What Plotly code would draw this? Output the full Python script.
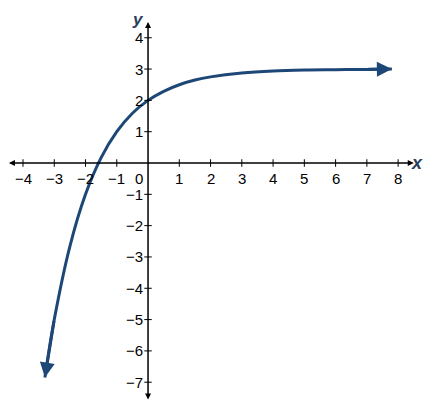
import plotly.graph_objects as go

curve_x = [-3.3, -3.0, -2.5, -2.0, -1.5, -1.0, -0.5, 0.0, 0.5, 1.0, 1.5, 2.0, 3.0, 4.0, 5.0, 6.0, 7.0, 7.8]
curve_y = [-6.85, -5.0, -2.66, -1.0, 0.17, 1.0, 1.59, 2.0, 2.29, 2.5, 2.65, 2.75, 2.875, 2.94, 2.97, 2.98, 2.99, 3.0]
x_ticks = [-4, -3, -2, -1, 1, 2, 3, 4, 5, 6, 7, 8]
y_ticks = [-7, -6, -5, -4, -3, -2, -1, 1, 2, 3, 4]

col = "#1d4776"
fig = go.Figure()
fig.add_trace(go.Scatter(x=curve_x, y=curve_y, mode="lines",
                         line=dict(color=col, width=3, shape="spline")))
ann = []
shapes = []
ax_style = dict(xref="x", yref="y", axref="x", ayref="y", showarrow=True, arrowhead=2,
                arrowsize=1.2, arrowwidth=1, arrowcolor="black", text="")
ann.append(dict(x=8.5, y=0, ax=-4.45, ay=0, **ax_style))
ann.append(dict(x=-4.45, y=0, ax=8.5, ay=0, **ax_style))
ann.append(dict(x=0, y=4.5, ax=0, ay=-7.55, **ax_style))
ann.append(dict(x=0, y=-7.55, ax=0, ay=4.5, **ax_style))
cs = dict(xref="x", yref="y", axref="x", ayref="y", showarrow=True, arrowhead=2,
          arrowsize=1, arrowwidth=3, arrowcolor=col, text="")
ann.append(dict(x=curve_x[0], y=curve_y[0], ax=curve_x[1], ay=curve_y[1], **cs))
ann.append(dict(x=curve_x[-1], y=curve_y[-1], ax=curve_x[-2], ay=curve_y[-2], **cs))
fnt = dict(family="Liberation Sans, Arial", size=15, color="black")
for t in x_ticks:
    shapes.append(dict(type="line", x0=t, x1=t, y0=-0.12, y1=0.12, xref="x", yref="y", line=dict(color="black", width=1)))
    ann.append(dict(x=t, y=-0.15, text=str(t).replace("-", "−"), showarrow=False, yanchor="top", font=fnt))
for t in y_ticks:
    shapes.append(dict(type="line", y0=t, y1=t, x0=-0.12, x1=0.12, xref="x", yref="y", line=dict(color="black", width=1)))
    ann.append(dict(x=-0.1, y=t, text=str(t).replace("-", "−"), showarrow=False, xanchor="right", font=fnt))
ann.append(dict(x=-0.1, y=-0.15, text="0", showarrow=False, xanchor="right", yanchor="top", font=fnt))
ann.append(dict(x=1, xref="paper", y=0, text="<i><b>x</b></i>", showarrow=False, xanchor="right",
                font=dict(family="Liberation Sans", size=18)))
ann.append(dict(x=-0.05, y=1, yref="paper", yanchor="top", text="<i><b>y</b></i>", showarrow=False, xanchor="right",
                font=dict(family="Liberation Sans", size=17)))

fig.update_layout(width=417, height=393, margin=dict(l=0, r=0, t=0, b=0),
                  plot_bgcolor="white", paper_bgcolor="white", showlegend=False,
                  xaxis=dict(range=[-4.48, 8.86], visible=False),
                  yaxis=dict(range=[-7.6, 4.95], visible=False),
                  annotations=ann, shapes=shapes)
fig.write_html("out.html")
